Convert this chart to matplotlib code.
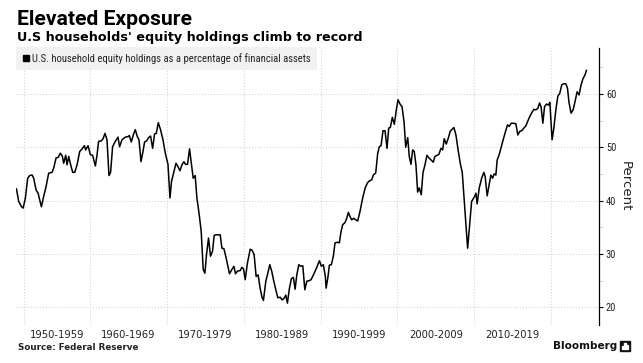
import matplotlib
matplotlib.use("Agg")
import matplotlib.pyplot as plt
from matplotlib import font_manager
from matplotlib.lines import Line2D
from matplotlib.patches import Rectangle

# household equity holdings, % of financial assets
years = [
    1950.46, 1950.75, 1951.10, 1951.33, 1951.62, 1951.92, 1952.18, 1952.49, 1952.70, 1953.01,
    1953.27, 1953.70, 1954.00, 1954.31, 1954.65, 1955.09, 1955.30, 1955.61, 1955.87, 1956.17,
    1956.43, 1956.60, 1956.86, 1957.04, 1957.25, 1957.51, 1957.77, 1958.03, 1958.34, 1958.68,
    1958.99, 1959.29, 1959.46, 1959.77, 1960.07, 1960.36, 1960.72, 1960.94, 1961.14, 1961.49,
    1961.72, 1961.97, 1962.23, 1962.49, 1962.70, 1962.96, 1963.31, 1963.66, 1963.87, 1964.18,
    1964.61, 1964.96, 1965.13, 1965.39, 1965.69, 1965.91, 1966.17, 1966.39, 1966.65, 1966.91,
    1967.12, 1967.38, 1967.64, 1967.90, 1968.16, 1968.42, 1968.64, 1968.90, 1969.19, 1969.51,
    1969.81, 1970.16, 1970.42, 1970.62, 1970.94, 1971.20, 1971.46, 1971.72, 1971.97, 1972.23,
    1972.44, 1972.70, 1972.96, 1973.22, 1973.44, 1973.70, 1973.92, 1974.22, 1974.48, 1974.74,
    1974.96, 1975.17, 1975.43, 1975.69, 1975.95, 1976.17, 1976.43, 1976.73, 1976.95, 1977.17,
    1977.43, 1977.73, 1978.16, 1978.47, 1978.73, 1978.94, 1979.20, 1979.55, 1979.77, 1979.97,
    1980.20, 1980.49, 1980.85, 1981.10, 1981.36, 1981.62, 1981.88, 1982.14, 1982.40, 1982.57,
    1982.88, 1983.09, 1983.40, 1983.66, 1983.92, 1984.18, 1984.44, 1984.74, 1985.00, 1985.26,
    1985.48, 1985.69, 1985.95, 1986.21, 1986.47, 1986.69, 1986.91, 1987.17, 1987.43, 1987.69,
    1987.95, 1988.21, 1988.51, 1988.77, 1989.07, 1989.42, 1989.64, 1989.85, 1990.10, 1990.36,
    1990.62, 1990.72, 1990.97, 1991.14, 1991.40, 1991.66, 1991.88, 1992.18, 1992.44, 1992.66,
    1992.88, 1993.18, 1993.40, 1993.61, 1993.83, 1994.05, 1994.31, 1994.48, 1994.83, 1995.13,
    1995.43, 1995.78, 1996.08, 1996.34, 1996.65, 1996.86, 1997.17, 1997.43, 1997.64, 1997.86,
    1998.12, 1998.38, 1998.64, 1998.86, 1999.07, 1999.33, 1999.59, 1999.85, 2000.07, 2000.33,
    2000.59, 2000.85, 2001.07, 2001.33, 2001.53, 2001.75, 2001.97, 2002.18, 2002.40, 2002.62,
    2002.83, 2003.09, 2003.31, 2003.57, 2003.83, 2004.09, 2004.35, 2004.65, 2004.87, 2005.17,
    2005.39, 2005.65, 2005.87, 2006.08, 2006.34, 2006.60, 2006.86, 2007.12, 2007.34, 2007.60,
    2007.90, 2008.16, 2008.42, 2008.68, 2008.90, 2009.12, 2009.38, 2009.64, 2010.03, 2010.20,
    2010.36, 2010.62, 2010.94, 2011.23, 2011.40, 2011.66, 2011.92, 2012.14, 2012.36, 2012.57,
    2012.79, 2012.96, 2013.22, 2013.44, 2013.74, 2014.05, 2014.31, 2014.52, 2014.78, 2015.13,
    2015.39, 2015.65, 2015.91, 2016.17, 2016.43, 2016.69, 2016.91, 2017.21, 2017.47, 2017.73,
    2017.99, 2018.25, 2018.47, 2018.68, 2018.90, 2019.12, 2019.38, 2019.64, 2019.81, 2020.10,
    2020.33, 2020.59, 2020.85, 2021.10, 2021.36, 2021.62, 2021.88, 2022.10, 2022.31, 2022.57,
    2022.83, 2023.09, 2023.35, 2023.61, 2023.87, 2024.13, 2024.39, 2024.57,
]
equity_share = [
    42.2, 39.85, 38.9, 38.6, 40.5, 44.2, 44.7, 44.8, 44.2, 42.0,
    41.4, 38.85, 40.8, 42.65, 45.15, 45.3, 46.1, 48.0, 48.1, 48.9,
    48.3, 47.0, 48.5, 46.7, 48.3, 46.7, 45.3, 45.3, 46.7, 49.2,
    49.7, 50.3, 49.5, 50.3, 48.6, 48.5, 46.5, 48.6, 51.1, 51.2,
    51.6, 52.6, 51.4, 44.7, 45.3, 50.1, 51.1, 51.9, 50.1, 51.4,
    51.9, 52.0, 52.2, 51.0, 52.5, 53.3, 52.0, 51.4, 47.3, 49.2,
    51.0, 51.2, 51.8, 52.1, 49.8, 52.5, 52.6, 54.6, 53.3, 51.4,
    48.9, 46.8, 40.5, 43.6, 45.5, 47.0, 46.4, 45.6, 46.7, 47.3,
    46.8, 46.8, 49.7, 46.7, 44.2, 44.7, 40.5, 37.4, 34.2, 27.1,
    26.4, 29.9, 33.0, 29.6, 30.5, 33.5, 33.6, 33.6, 33.6, 31.1,
    31.0, 29.2, 26.3, 27.1, 27.7, 26.3, 26.8, 26.9, 27.5, 27.25,
    25.2, 28.3, 30.9, 30.7, 29.9, 25.8, 26.1, 23.6, 21.8, 21.3,
    24.9, 26.1, 28.0, 26.7, 24.9, 23.3, 21.8, 21.9, 21.4, 21.7,
    22.3, 20.8, 23.6, 25.4, 25.6, 23.4, 26.1, 28.0, 27.7, 27.8,
    23.3, 24.9, 25.0, 25.2, 26.1, 27.2, 28.0, 28.75, 27.7, 28.0,
    25.8, 23.6, 25.8, 27.9, 28.0, 29.6, 32.1, 32.2, 32.1, 34.2,
    35.5, 35.9, 36.7, 37.8, 37.0, 36.4, 36.7, 36.5, 36.2, 38.0,
    40.2, 42.3, 43.3, 43.7, 43.9, 44.8, 45.2, 48.9, 50.1, 50.3,
    53.1, 53.1, 49.8, 53.6, 53.7, 55.6, 54.3, 57.0, 58.9, 58.1,
    57.6, 54.8, 50.0, 51.8, 48.3, 46.8, 49.5, 49.2, 46.7, 41.6,
    42.4, 41.1, 45.2, 46.7, 48.5, 48.0, 47.65, 47.2, 48.3, 48.5,
    48.7, 49.8, 49.5, 51.6, 50.6, 51.7, 53.0, 53.4, 53.7, 52.3,
    49.3, 47.0, 45.3, 39.85, 35.5, 31.1, 35.5, 39.85, 40.8, 41.4,
    39.4, 42.3, 44.2, 45.3, 44.5, 40.9, 43.0, 44.8, 44.2, 45.0,
    44.8, 47.6, 48.6, 49.8, 51.4, 53.0, 54.2, 53.9, 54.5, 54.5,
    54.4, 52.3, 53.0, 53.1, 53.6, 54.0, 54.8, 55.8, 56.5, 57.1,
    57.0, 57.3, 58.3, 57.5, 54.5, 57.6, 58.1, 57.9, 58.4, 51.4,
    53.6, 57.0, 59.6, 60.1, 61.7, 61.9, 61.9, 61.1, 58.3, 56.4,
    57.0, 58.6, 60.4, 59.8, 61.7, 62.9, 63.6, 64.4,
]
assert len(years) == len(equity_share)

# decade bands along the bottom; first line is where the axis starts
decade_lines = [1951.4, 1960, 1970, 1980, 1990, 2000, 2010, 2020]
decade_labels = ["1950-1959", "1960-1969", "1970-1979", "1980-1989",
                 "1990-1999", "2000-2009", "2010-2019"]
y_ticks = [20, 30, 40, 50, 60]
y_minor = [25, 35, 45, 55, 65]

available = {f.name for f in font_manager.fontManager.ttflist}
narrow = next((n for n in ["Liberation Sans Narrow", "DejaVu Sans Condensed", "Roboto Condensed"]
               if n in available), "Liberation Sans")

W, H = 643, 363
fig = plt.figure(figsize=(W / 100, H / 100), dpi=100)
ax = fig.add_axes([16 / W, 38 / H, 583 / W, 277 / H])

ax.plot(years, equity_share, color="black", lw=1.1, zorder=3,
        label="U.S. household equity holdings as a percentage of financial assets")

ax.set_xlim(1950.4, 2026.2)
ax.set_ylim(16.7, 68.6)

for s in ["top", "left", "bottom"]:
    ax.spines[s].set_visible(False)
ax.spines["right"].set_color("black")
ax.spines["right"].set_linewidth(0.9)

ax.yaxis.tick_right()
ax.set_yticks(y_ticks)
ax.set_yticks(y_minor, minor=True)
ax.tick_params(axis="y", which="major", length=3, width=0.8, pad=2,
               labelsize=7.5, labelcolor="#222222")
ax.tick_params(axis="y", which="minor", length=3, width=0.6, color="#cccccc")
for lbl in ax.get_yticklabels():
    lbl.set_family(narrow)
ax.yaxis.set_label_position("right")
ax.set_ylabel("Percent", rotation=-90, labelpad=11, fontsize=9.5, color="#222222")

mids = [(a + b) / 2 for a, b in zip(decade_lines[:-1], decade_lines[1:])]
ax.set_xticks(decade_lines)
ax.set_xticklabels([])
ax.set_xticks(mids, minor=True)
ax.set_xticklabels(decade_labels, minor=True)
ax.tick_params(axis="x", which="both", length=0, pad=3.5, labelsize=7.2, labelcolor="#222222")

ax.grid(axis="y", which="major", color="#d4d4d4", ls=":", lw=0.8)
ax.grid(axis="x", which="major", color="#d4d4d4", ls=":", lw=0.8)

handle = Line2D([0], [0], marker="s", color="none", markerfacecolor="black",
                markeredgecolor="black", markersize=4.5)
leg = ax.legend([handle], [ax.get_lines()[0].get_label()], loc="upper left",
                bbox_to_anchor=(0, 1.005), borderaxespad=0, frameon=True, fancybox=False,
                handlelength=0.6, handletextpad=0.3, borderpad=0.6,
                prop={"family": narrow, "size": 7.65})
leg.get_frame().set_facecolor("#efefef")
leg.get_frame().set_edgecolor("none")
leg.get_frame().set_alpha(0.85)
for t in leg.get_texts():
    t.set_color("#222222")

fig.text(17 / W, 1 - 25 / H, "Elevated Exposure", family="Roboto", weight="bold",
         fontsize=15.2, va="baseline", ha="left")
fig.text(17 / W, 1 - 40.5 / H, "U.S households' equity holdings climb to record",
         family="DejaVu Sans", weight="bold", fontsize=9.2, va="baseline", ha="left")
fig.text(18 / W, 1 - 347.5 / H, "Source: Federal Reserve", family="DejaVu Sans",
         weight="bold", fontsize=6.3, va="center", ha="left", color="#222222")
fig.text(617 / W, 1 - 346 / H, "Bloomberg", family="DejaVu Sans", weight="bold",
         fontsize=7.5, va="center", ha="right", color="#111111")

# small terminal logo next to the wordmark
fig.add_artist(Rectangle((620 / W, 1 - 351 / H), 10 / W, 10 / H,
                         transform=fig.transFigure, color="#111111"))
for i, h in enumerate([3, 6, 4]):
    fig.add_artist(Rectangle(((622 + 2.3 * i) / W, 1 - 349 / H), 1.3 / W, h / H,
                             transform=fig.transFigure, color="white"))

fig.savefig("out.png", dpi=100)
